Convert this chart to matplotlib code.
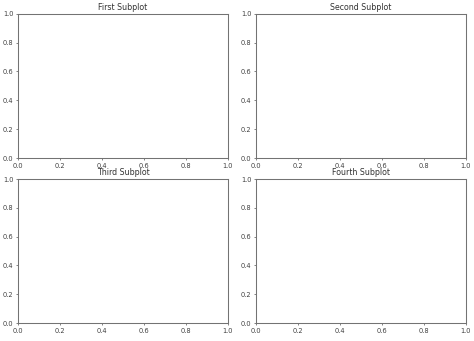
import matplotlib
matplotlib.use("Agg")
import matplotlib.pyplot as plt

titles = ["First Subplot", "Second Subplot", "Third Subplot", "Fourth Subplot"]

fig, axes = plt.subplots(2, 2, figsize=(10, 7.2), dpi=47.4)
fig.subplots_adjust(left=0.038, right=0.983, top=0.959, bottom=0.053,
                    wspace=0.133, hspace=0.147)

for ax, title in zip(axes.flat, titles):
    ax.set_title(title, fontsize=12, color="0.2")
    ax.tick_params(labelsize=10, labelcolor="0.25", color="0.4", width=1.2)
    for s in ax.spines.values():
        s.set_linewidth(1.6)
        s.set_color("0.45")

fig.savefig("out.png", dpi=47.4)
